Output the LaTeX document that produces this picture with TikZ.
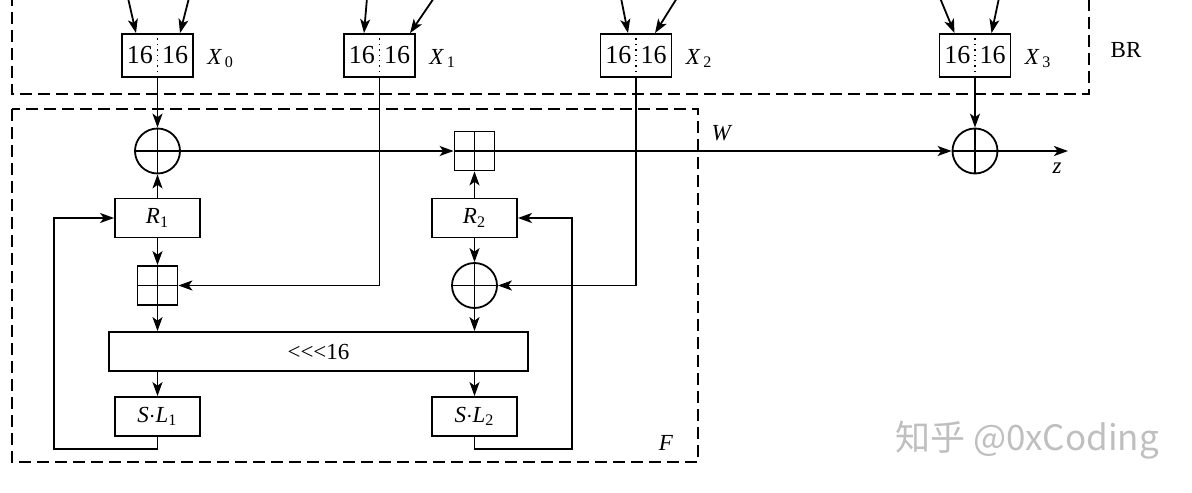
\documentclass[tikz,border=0pt]{standalone}
\usepackage{fontspec}
\setmainfont{Liberation Serif}
\newfontfamily\cjk{Noto Sans CJK SC}
\usetikzlibrary{positioning, arrows.meta}

\begin{document}
\begin{tikzpicture}[x=0.5pt, y=-0.5pt, line width=0.9pt,
    font=\fontsize{11.5}{13}\selectfont,
    arr/.style={-{Stealth[length=7pt, width=5pt, inset=1.8pt]}},
    marco/.style={dash pattern=on 6pt off 3pt, line width=0.8pt},
    caja/.style={draw, minimum width=42.5pt, minimum height=19.5pt, inner sep=0pt},
    reg/.style={draw, minimum width=35.5pt, minimum height=21.5pt, inner sep=0pt},
    cruz/.style={path picture={
        \draw (path picture bounding box.north) -- (path picture bounding box.south)
              (path picture bounding box.west) -- (path picture bounding box.east);}},
    xorop/.style={draw, circle, minimum size=22.5pt, inner sep=0pt, cruz},
    addop/.style={draw, minimum width=20pt, minimum height=19.5pt, inner sep=0pt, cruz}]
    \useasboundingbox (0,0) rectangle (1192,492);

    % Registros X0..X3
    \foreach \i/\xc in {0/157.5, 1/379.5, 2/636, 3/975} {
        \node[reg] (x\i) at (\xc,55.5) {};
        \draw[dotted, line width=0.7pt] (x\i.north) -- (x\i.south);
        \node[font=\fontsize{13}{15}\selectfont] (x\i l) at ([xshift=-8.8pt]x\i.center) {16};
        \node[font=\fontsize{13}{15}\selectfont] (x\i r) at ([xshift=8.8pt]x\i.center) {16};
        \node[right=3pt of x\i, yshift=-1.5pt] (lx\i) {\textit{X}\textsubscript{\,\i}};
    }

    % Entradas desde arriba
    \foreach \i/\ta/\sa/\tb/\sb in {0/128/-10.75/189/11.25, 1/367/-7.75/434/15.25,
                                    2/621/-4/677/9.5, 3/940/-10.25/999/8.25} {
        \coordinate (e\i a) at (\ta,-2);
        \coordinate (e\i b) at (\tb,-2);
        \draw[arr] (e\i a) -- ([xshift=\sa pt]x\i.north);
        \draw[arr] (e\i b) -- ([xshift=\sb pt]x\i.north);
    }

    % Marcos BR y F
    \draw[marco] (12,-6) -- (12,94) -- (1089,94) -- (1089,-6);
    \node (br) at (1126,50) {BR};
    \draw[marco] (12,109) rectangle (698,462);
    \node (f) at (666,443) {\textit{F}};

    % Operaciones
    \node[xorop] (xa) at (157.5,151) {};
    \node[addop] (pa) at (474.5,151) {};
    \node[xorop] (xc) at (975,151) {};
    \node[caja] (r1) at (157.5,218) {\textit{R}\textsubscript{1}};
    \node[caja] (r2) at (474.5,218) {\textit{R}\textsubscript{2}};
    \node[addop] (pb) at (157.5,285.5) {};
    \node[xorop] (xb) at (474.5,285.5) {};
    \node[draw, minimum width=209.5pt, minimum height=19.5pt, inner sep=0pt] (rot)
        at (318.5,351.5) {{<}{<}{<}16};
    \node[caja] (s1) at (157.5,416.5) {\textit{S}$\cdot$\textit{L}\textsubscript{1}};
    \node[caja] (s2) at (474.5,416.5) {\textit{S}$\cdot$\textit{L}\textsubscript{2}};

    % Salida W -> z
    \coordinate (zend) at (1068,151);
    \node (w) at (722,133) {\textit{W}};
    \node (z) at (1057,168) {\textit{z}};
    \draw[arr] (x0) -- (xa);
    \draw[arr] (xa) -- (pa);
    \draw[arr] (pa) -- (xc);
    \draw[arr] (xc) -- (zend);
    \draw[arr] (x3) -- (xc);

    % Columna izquierda
    \draw[arr] (r1) -- (xa);
    \draw[arr] (r1) -- (pb);
    \draw[arr] (x1) |- (pb);
    \draw[arr] (pb) -- (pb |- rot.north);
    \draw[arr] (s1 |- rot.south) -- (s1);

    % Columna derecha
    \draw[arr] (r2) -- (pa);
    \draw[arr] (r2) -- (xb);
    \draw[arr] (x2) |- (xb);
    \draw[arr] (xb) -- (xb |- rot.north);
    \draw[arr] (s2 |- rot.south) -- (s2);

    % Realimentacion
    \coordinate (fa) at (54,449);
    \coordinate (fb) at (572,449);
    \draw[arr] (s1) |- (fa) |- (r1);
    \draw[arr] (s2) |- (fb) |- (r2);

    \node[font=\cjk\fontsize{17.5}{20}\selectfont, text=gray!50] (wm) at (1027,440) {知乎 @0xCoding};
\end{tikzpicture}
\end{document}
